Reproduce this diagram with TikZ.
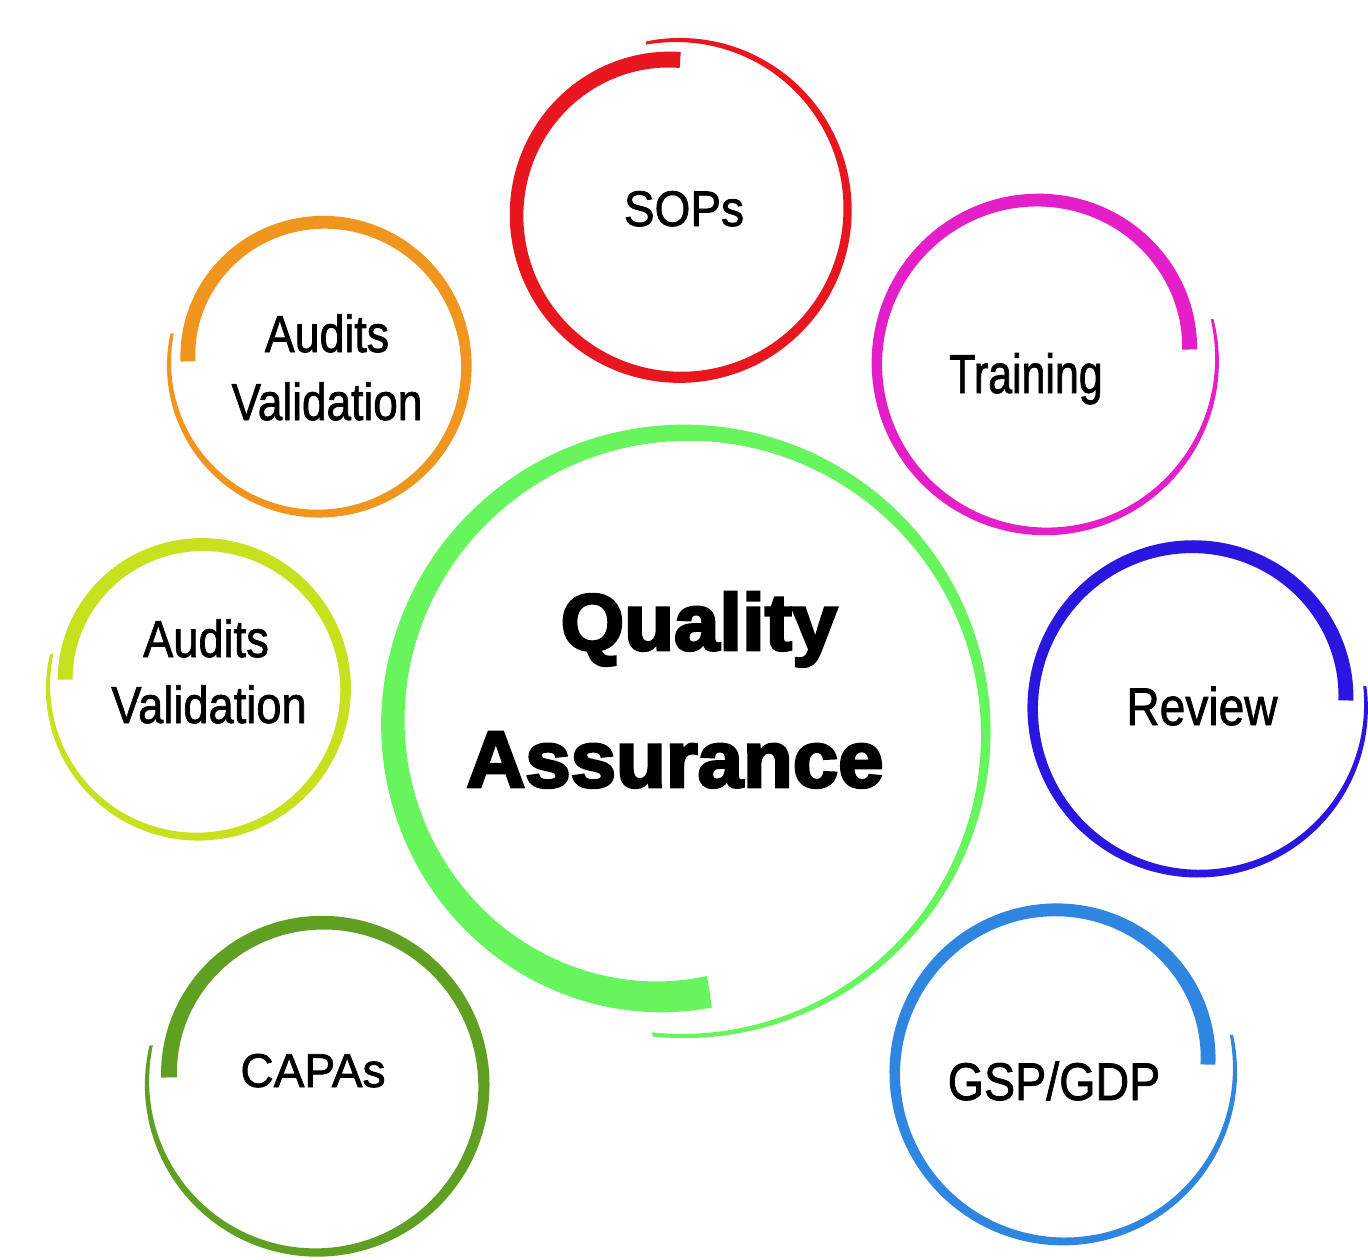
\documentclass[tikz,border=0pt]{standalone}
\usepackage{fontspec}
\usepackage{graphicx}
\setmainfont{Liberation Sans}
\newfontfamily\lblfont[FakeBold=1.5]{Liberation Sans}
\newfontfamily\qafont[FakeBold=3.5]{Liberation Sans Bold}
\definecolor{ringred}{RGB}{232,22,30}
\definecolor{ringmag}{RGB}{228,30,200}
\definecolor{ringind}{RGB}{42,22,222}
\definecolor{ringsky}{RGB}{46,134,224}
\definecolor{ringolive}{RGB}{95,160,35}
\definecolor{ringlime}{RGB}{200,225,30}
\definecolor{ringorange}{RGB}{240,150,30}
\definecolor{ringgreen}{RGB}{102,245,92}
% brush ring: #1 cx, #2 cy (pixels, y down), #3 r start, #4 r end,
% #5 start angle, #6 sweep, #7 width start, #8 width end, #9 colour
\def\rpow{3}
\def\wpow{0.7}
\newcommand{\brushring}[9]{%
  \fill[#9] plot[domain=0:0.9999, samples=200, variable=\t]
    ({#1+(#4-(#4-#3)*(1-\t)^\rpow+(#8+(#7-#8)*(1-\t)^\wpow)/2)*cos(#5+(#6)*\t)},
     {-#2+(#4-(#4-#3)*(1-\t)^\rpow+(#8+(#7-#8)*(1-\t)^\wpow)/2)*sin(#5+(#6)*\t)})
    -- plot[domain=0.9999:0, samples=200, variable=\t]
    ({#1+(#4-(#4-#3)*(1-\t)^\rpow-(#8+(#7-#8)*(1-\t)^\wpow)/2)*cos(#5+(#6)*\t)},
     {-#2+(#4-(#4-#3)*(1-\t)^\rpow-(#8+(#7-#8)*(1-\t)^\wpow)/2)*sin(#5+(#6)*\t)})
    -- cycle;}
\tikzset{
  lbl/.style={anchor=base, inner sep=0pt, text=black},
  qalbl/.style={anchor=base, inner sep=0pt, text=black, font=\qafont\fontsize{80}{90}\selectfont},
}
\begin{document}
\begin{tikzpicture}[x=1pt,y=1pt]
\useasboundingbox (0,0) rectangle (1368,-1259);
\fill[white] (0,0) rectangle (1368,-1259);
\clip (0,0) rectangle (1368,-1259);

% rings
\brushring{678}{210}{150}{170}{89}{372}{16}{3}{ringred}
\brushring{1045}{360}{145}{172}{4}{370}{15}{2.5}{ringmag}
\brushring{1198}{706}{148}{168}{2}{365}{15}{3}{ringind}
\brushring{1063}{1070}{145}{172}{2}{370}{15}{3}{ringsky}
\brushring{317}{1083}{148}{170}{178}{-371}{16}{3}{ringolive}
\brushring{198}{687}{133}{150}{177}{-370}{15}{3}{ringlime}
\brushring{319}{364}{131}{150}{179}{-371}{15}{3}{ringorange}
\def\rpow{4}
\def\wpow{1.2}
\brushring{683}{733}{260}{303}{276}{-372}{32}{4}{ringgreen}

% labels
\node[qalbl] (quality) at (699,-650) {\scalebox{1.02}[1]{Quality}};
\node[qalbl] (assurance) at (675,-787) {\scalebox{1.02}[1]{Assurance}};

\node[lbl, font=\lblfont\fontsize{50}{60}\selectfont] (sops) at (684,-226) {\scalebox{0.92}[1]{SOPs}};
\node[lbl, font=\lblfont\fontsize{55}{66}\selectfont] (training) at (1026,-393) {\scalebox{0.78}[1]{Training}};
\node[lbl, font=\lblfont\fontsize{53}{64}\selectfont] (review) at (1202,-725) {\scalebox{0.87}[1]{Review}};
\node[lbl, font=\lblfont\fontsize{53}{64}\selectfont] (gsp) at (1054,-1100) {\scalebox{0.88}[1]{GSP/GDP}};
\node[lbl, font=\lblfont\fontsize{47.5}{57}\selectfont] (capas) at (313,-1087) {\scalebox{0.97}[1]{CAPAs}};
\node[lbl, font=\lblfont\fontsize{52}{62}\selectfont] (audA1) at (327,-352) {\scalebox{0.86}[1]{Audits}};
\node[lbl, font=\lblfont\fontsize{52}{62}\selectfont] (audA2) at (327,-420) {\scalebox{0.85}[1]{Validation}};
\node[lbl, font=\lblfont\fontsize{52}{62}\selectfont] (audB1) at (206,-657) {\scalebox{0.87}[1]{Audits}};
\node[lbl, font=\lblfont\fontsize{52}{62}\selectfont] (audB2) at (209,-723) {\scalebox{0.87}[1]{Validation}};
\end{tikzpicture}
\end{document}
